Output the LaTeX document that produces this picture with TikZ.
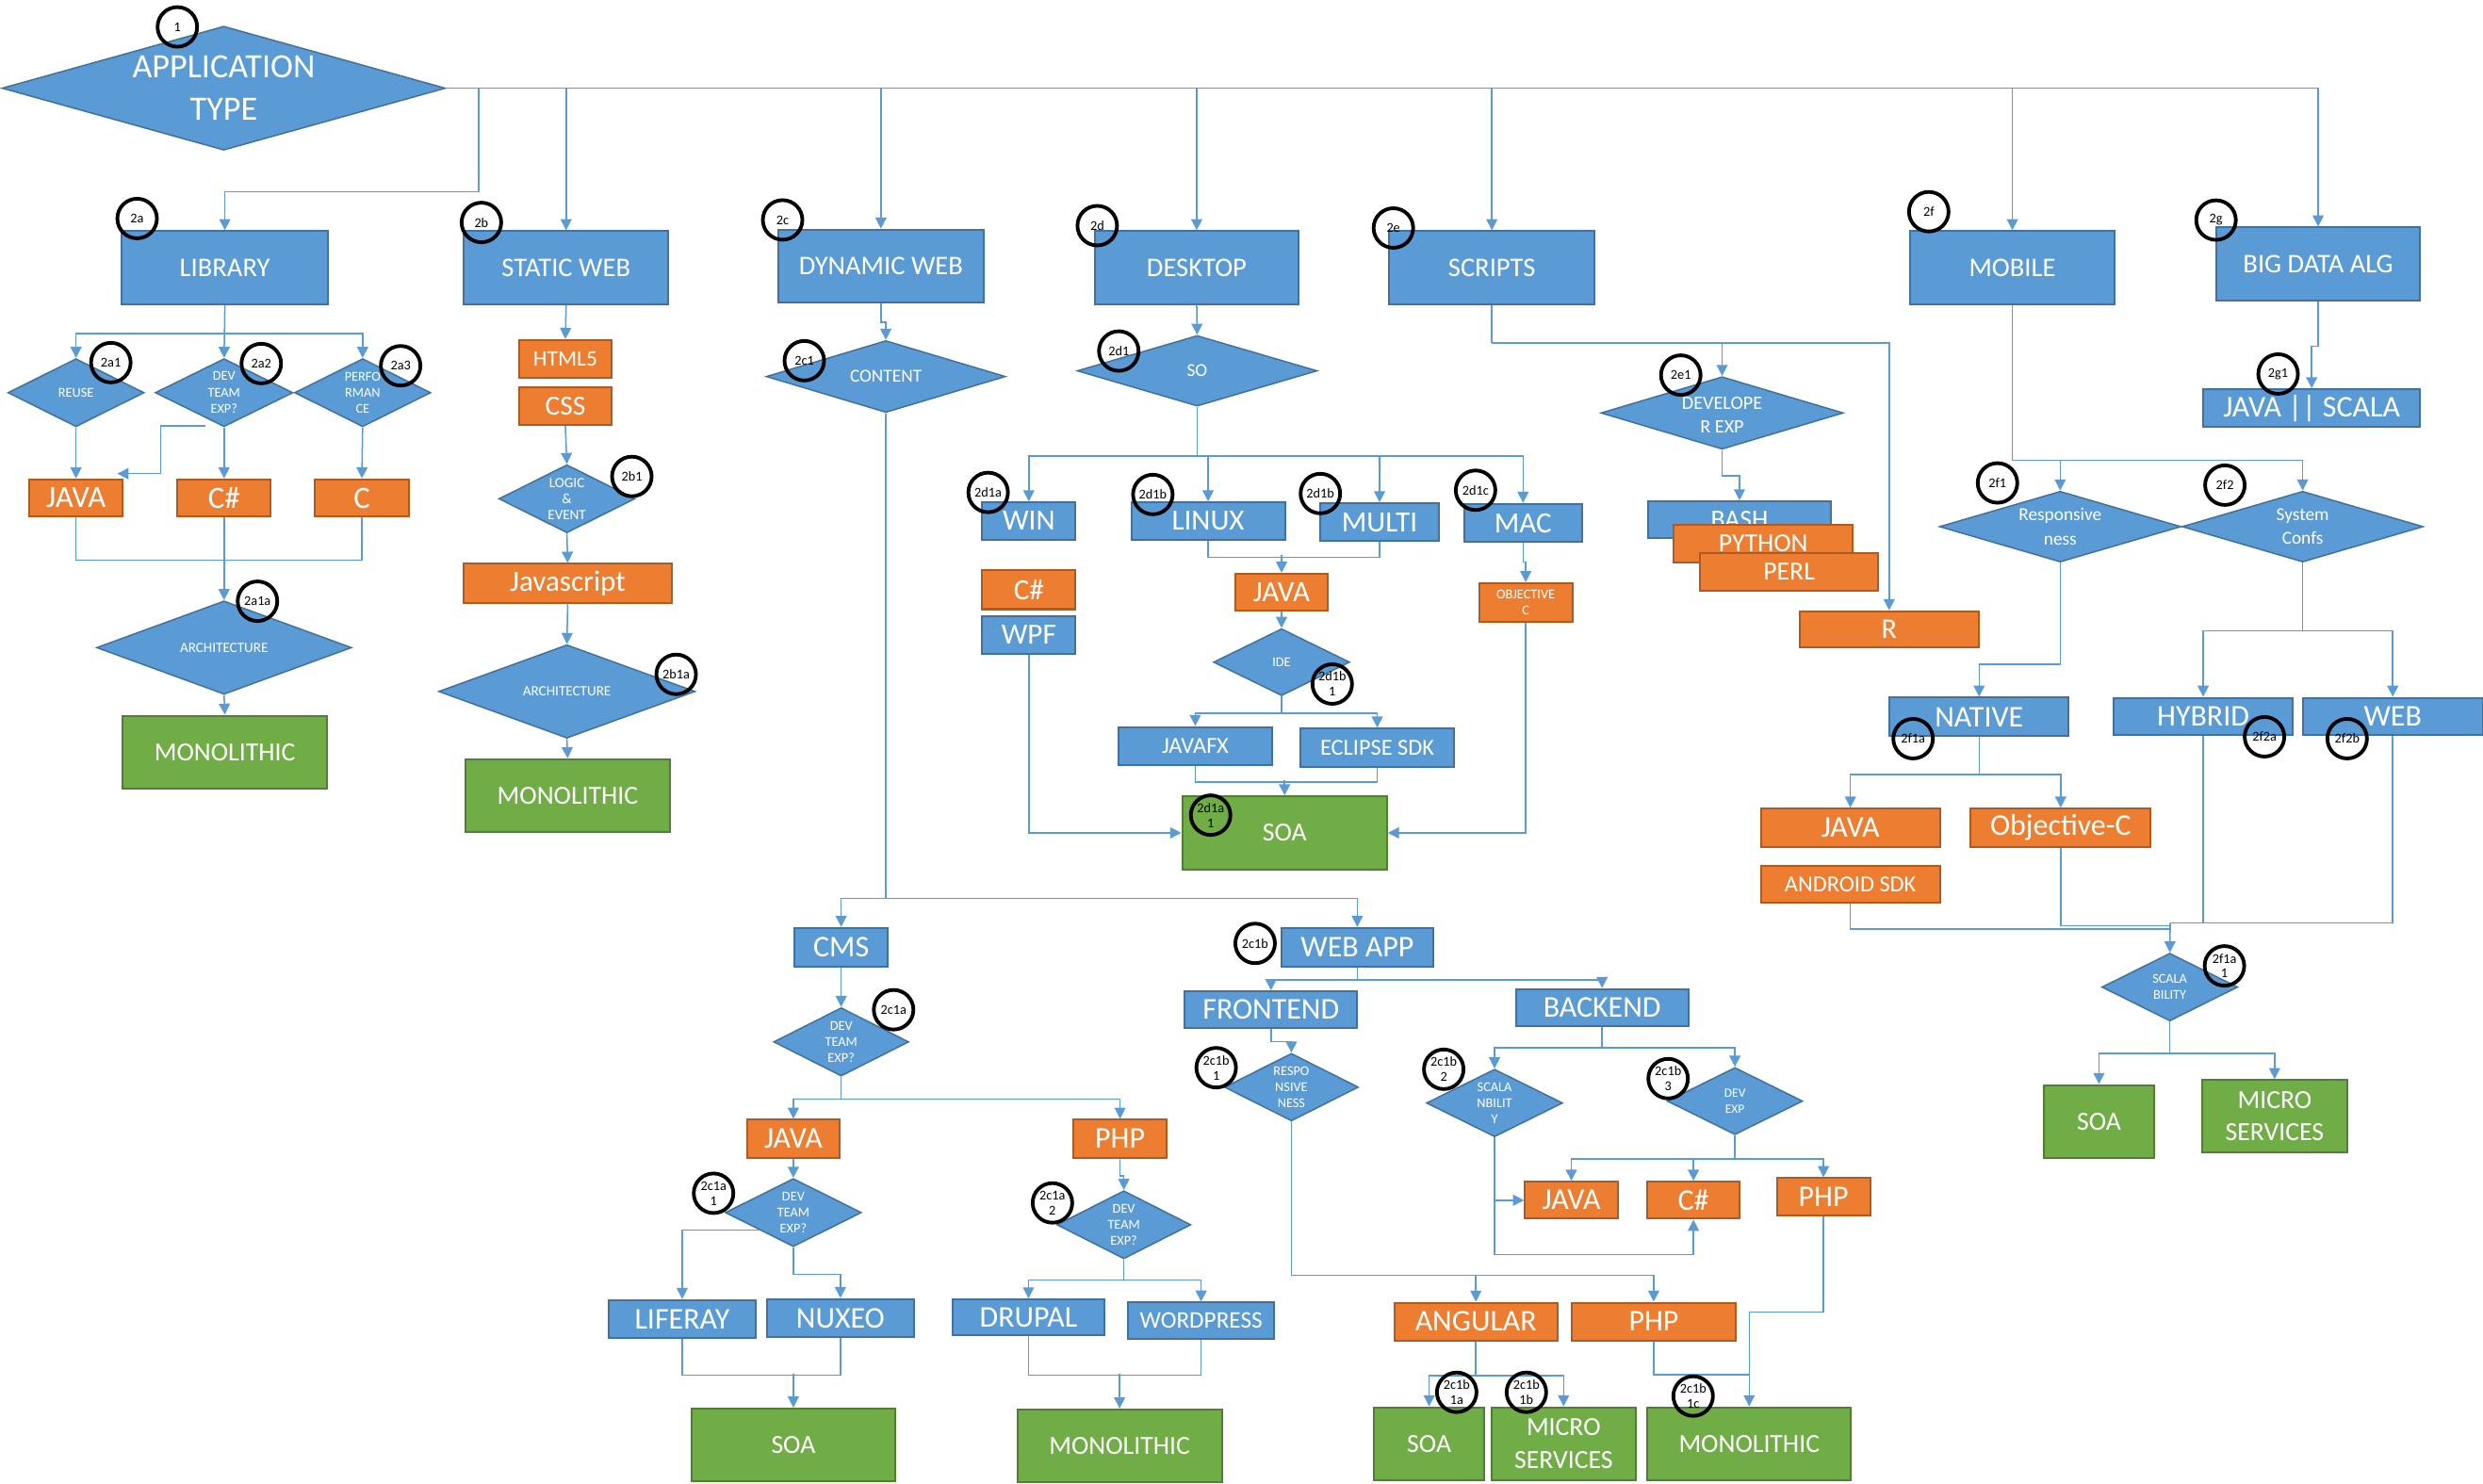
\documentclass[tikz,border=0pt]{standalone}
\usepackage{fontspec}
\setmainfont{Carlito}
\usetikzlibrary{shapes.geometric,arrows.meta,calc}
\definecolor{bfill}{HTML}{5B9BD5}
\definecolor{bdr}{HTML}{41719C}
\definecolor{ofill}{HTML}{ED7D31}
\definecolor{odr}{HTML}{AE5A21}
\definecolor{gfill}{HTML}{70AD47}
\definecolor{gdr}{HTML}{507E32}
\definecolor{lc}{HTML}{5B9BD5}
\tikzset{
  bx/.style={rectangle, draw=bdr, fill=bfill, line width=1.2pt, text=white, inner sep=0pt, align=center},
  ox/.style={rectangle, draw=odr, fill=ofill, line width=1.2pt, text=white, inner sep=0pt, align=center},
  gx/.style={rectangle, draw=gdr, fill=gfill, line width=1.2pt, text=white, inner sep=0pt, align=center},
  dm/.style={diamond, draw=bdr, fill=bfill, line width=0.9pt, inner sep=0pt},
  dt/.style={text=white, inner sep=0pt, align=center},
  wh/.style 2 args={minimum width=#1, minimum height=#2},
  fs/.style 2 args={font=\fontsize{#1}{#2}\selectfont},
  conn/.style={draw=lc, line width=0.9pt},
  arr/.style={conn, -{Triangle[width=7pt,length=7pt]}},
  badge/.style={circle, draw=black, line width=2.3pt, minimum size=25pt, inner sep=0pt, text=black, align=center, font=\fontsize{8.5}{9.5}\selectfont},
}
\begin{document}
\begin{tikzpicture}[x=1pt,y=-1pt]
\fill[white] (0,0) rectangle (1568,937);
\useasboundingbox (0,0) rectangle (1568,937);

% ---------- top ----------
\node[dm, wh={280}{78.3}] (app) at (141.3,55.7) {};
\node[dt, fs={21.5}{26.8}] (app-t) at (app) {APPLICATION\\TYPE};

\node[bx, wh={130}{46}, fs={17}{20}] (lib) at (142,169) {LIBRARY};
\node[bx, wh={129}{46}, fs={17}{20}] (static) at (357.5,169) {STATIC WEB};
\node[bx, wh={130}{46}, fs={17}{20}] (dyn) at (556.3,168) {DYNAMIC WEB};
\node[bx, wh={129}{46}, fs={17}{20}] (desk) at (755.7,169) {DESKTOP};
\node[bx, wh={129.4}{46.3}, fs={17}{20}] (scripts) at (942.1,169.2) {SCRIPTS};
\node[bx, wh={129.3}{46.2}, fs={17}{20}] (mobile) at (1270.8,169.1) {MOBILE};
\node[bx, wh={129}{46.3}, fs={17}{20}] (bigdata) at (1463.9,166.8) {BIG DATA ALG};

% ---------- library ----------
\node[dm, wh={86}{43}] (reuse) at (48,248) {};
\node[dt, fs={8.5}{10.3}] (reuse-t) at (reuse) {REUSE};
\node[dm, wh={87}{43}] (dteL) at (141.5,248) {};
\node[dt, fs={8.5}{10.3}] (dteL-t) at (dteL) {DEV\\TEAM\\EXP?};
\node[dm, wh={86}{43}] (perf) at (229,248) {};
\node[dt, fs={8.5}{10.3}] (perf-t) at (perf) {PERFO\\RMAN\\CE};
\node[ox, wh={59}{23.5}, fs={19.5}{22}] (javaL) at (48,314.5) {JAVA};
\node[ox, wh={59}{23.5}, fs={19.5}{22}] (csL) at (141.5,314.5) {C\#};
\node[ox, wh={59}{23.5}, fs={19.5}{22}] (cL) at (228.5,314.5) {C};
\node[dm, wh={161}{59}] (arch1) at (141.5,409) {};
\node[dt, fs={9}{11}] (arch1-t) at (arch1) {ARCHITECTURE};
\node[gx, wh={129}{46}, fs={16.5}{19}] (mono1) at (142,475) {MONOLITHIC};

% ---------- static web ----------
\node[ox, wh={58}{24}, fs={14}{17}] (html5) at (357,226.7) {HTML5};
\node[ox, wh={58}{24}, fs={17.5}{20}] (css) at (357,256.4) {CSS};
\node[dm, wh={86}{43}] (logic) at (358,315) {};
\node[dt, fs={9}{10.2}] (logic-t) at (logic) {LOGIC\\\&\\EVENT};
\node[ox, wh={131}{24.5}, fs={18.5}{21}] (js) at (358.5,368.3) {Javascript};
\node[dm, wh={162}{59}] (arch2) at (358,436.7) {};
\node[dt, fs={9}{11}] (arch2-t) at (arch2) {ARCHITECTURE};
\node[gx, wh={129.5}{46}, fs={16.5}{19}] (mono2) at (358.5,502.5) {MONOLITHIC};

% ---------- dynamic web ----------
\node[dm, wh={151}{45.4}] (content) at (559.4,237.8) {};
\node[dt, fs={11.5}{14}] (content-t) at (content) {CONTENT};
\node[bx, wh={58.7}{24.4}, fs={19}{22}] (cms) at (531.2,598.2) {CMS};
\node[bx, wh={96.2}{24.4}, fs={19}{22}] (webapp) at (857.1,598.2) {WEB APP};
\node[dm, wh={85.3}{43.2}] (dtec) at (531.2,658) {};
\node[dt, fs={8.5}{10.2}] (dtec-t) at (dtec) {DEV\\TEAM\\EXP?};
\node[ox, wh={58.7}{23.9}, fs={19}{22}] (javac) at (501,719.1) {JAVA};
\node[ox, wh={58.7}{23.9}, fs={19}{22}] (phpc) at (707.3,719.1) {PHP};
\node[dm, wh={86}{43}] (dtej) at (501,765.8) {};
\node[dt, fs={8.5}{10.2}] (dtej-t) at (dtej) {DEV\\TEAM\\EXP?};
\node[bx, wh={93}{24}, fs={19}{22}] (liferay) at (430.8,833) {LIFERAY};
\node[bx, wh={93}{24}, fs={19}{22}] (nuxeo) at (530.7,832.4) {NUXEO};
\node[gx, wh={128.7}{45.8}, fs={16.5}{19}] (soac) at (501,912.5) {SOA};
\node[dm, wh={84.6}{43}] (dtep) at (709.7,773.5) {};
\node[dt, fs={8.5}{10.2}] (dtep-t) at (dtep) {DEV\\TEAM\\EXP?};
\node[bx, wh={95.3}{22.7}, fs={19}{22}] (drupal) at (649.5,832) {DRUPAL};
\node[bx, wh={92.2}{23.2}, fs={15}{18}] (wordpress) at (758.5,834.2) {WORDPRESS};
\node[gx, wh={129}{45.8}, fs={16.5}{19}] (monoc) at (707,913) {MONOLITHIC};
\node[bx, wh={109}{23.2}, fs={19}{22}] (frontend) at (802.6,637.6) {FRONTEND};
\node[bx, wh={109}{23.6}, fs={19}{22}] (backend) at (1011.7,636.4) {BACKEND};
\node[dm, wh={84.6}{42.7}] (resp) at (815.5,686.6) {};
\node[dt, fs={8.5}{10.2}] (resp-t) at (resp) {RESPO\\NSIVE\\NESS};
\node[dm, wh={86}{42.7}] (scala) at (943.8,696.6) {};
\node[dt, fs={8.5}{10.2}] (scala-t) at (scala) {SCALA\\NBILIT\\Y};
\node[dm, wh={85.6}{42.4}] (devexp) at (1095.6,695.4) {};
\node[dt, fs={8}{10}] (devexp-t) at (devexp) {DEV\\EXP};
\node[ox, wh={58.6}{23.4}, fs={19}{22}] (javab) at (992.3,758) {JAVA};
\node[ox, wh={58}{23.4}, fs={19}{22}] (csb) at (1069.4,758) {C\#};
\node[ox, wh={59}{23.8}, fs={19}{22}] (phpb) at (1151.5,756) {PHP};
\node[ox, wh={103.2}{24}, fs={19}{22}] (angular) at (932,834.7) {ANGULAR};
\node[ox, wh={103.3}{24}, fs={19}{22}] (phpf) at (1044.3,834.7) {PHP};
\node[gx, wh={69.5}{46}, fs={16.5}{19}] (soaw) at (902.5,911.8) {SOA};
\node[gx, wh={91.3}{46}, fs={16.5}{20.5}] (microw) at (987.4,911.8) {MICRO\\SERVICES};
\node[gx, wh={128.4}{46}, fs={16.5}{19}] (monow) at (1104.6,911.8) {MONOLITHIC};

% ---------- desktop ----------
\node[dm, wh={151.5}{44.6}] (so) at (756,234.2) {};
\node[dt, fs={11.5}{14}] (so-t) at (so) {SO};
\node[bx, wh={59}{23.5}, fs={18.5}{21}] (win) at (649.7,329) {WIN};
\node[bx, wh={97}{23.5}, fs={18.5}{21}] (linux) at (762.9,329) {LINUX};
\node[bx, wh={75}{24}, fs={18.5}{21}] (multi) at (871.2,329.8) {MULTI};
\node[bx, wh={74.7}{24.2}, fs={18.5}{21}] (mac) at (961.8,330.3) {MAC};
\node[ox, wh={59}{24.4}, fs={18.5}{21}] (csd) at (649.7,372.5) {C\#};
\node[bx, wh={59}{24}, fs={18.5}{21}] (wpf) at (649.7,401) {WPF};
\node[ox, wh={58.7}{23.3}, fs={18.5}{21}] (javad) at (809.3,374) {JAVA};
\node[ox, wh={59}{24.4}, fs={8.5}{10.2}] (objc) at (963.5,380.5) {OBJECTIVE\\C};
\node[dm, wh={86}{42.3}] (ide) at (809.3,418.2) {};
\node[dt, fs={8.5}{10}] (ide-t) at (ide) {IDE};
\node[bx, wh={96.6}{24.2}, fs={14.5}{17}] (javafx) at (754.8,471.2) {JAVAFX};
\node[bx, wh={97}{24.4}, fs={14.5}{17}] (eclipse) at (869.7,472.3) {ECLIPSE SDK};
\node[gx, wh={129.3}{46.2}, fs={16.5}{19}] (soad) at (811.2,526) {SOA};

% ---------- scripts ----------
\node[dm, wh={153}{45.8}] (devel) at (1087.5,260.8) {};
\node[dt, fs={12}{15}] (devel-t) at (1087.5,262) {DEVELOPE\\R EXP};
\node[bx, wh={115}{23.4}, fs={16.5}{20}] (bash) at (1098.5,328.3) {BASH};
\node[ox, wh={113}{23.5}, fs={16.5}{20}] (python) at (1113.5,343.3) {PYTHON};
\node[ox, wh={112.5}{23.6}, fs={16.5}{20}] (perl) at (1129.8,361.2) {PERL};
\node[ox, wh={113}{23}, fs={18}{21}] (rbox) at (1193,397.5) {R};

% ---------- mobile ----------
\node[dm, wh={152.5}{44.7}] (resp2) at (1301,332.6) {};
\node[dt, fs={11.5}{15}] (resp2-t) at (resp2) {Responsive\\ness};
\node[dm, wh={152.2}{44.7}] (sys) at (1454.1,332.6) {};
\node[dt, fs={11.5}{15}] (sys-t) at (sys) {System\\Confs};
\node[bx, wh={113.2}{24.2}, fs={19}{22}] (native) at (1249.8,452.7) {NATIVE};
\node[bx, wh={113.2}{23.5}, fs={19}{22}] (hybrid) at (1391.3,452.4) {HYBRID};
\node[bx, wh={113.6}{23.5}, fs={19}{22}] (web) at (1511,452.4) {WEB};
\node[ox, wh={113.2}{24.2}, fs={19}{22}] (javam) at (1168.5,522.8) {JAVA};
\node[ox, wh={113.5}{24.2}, fs={19}{22}] (objcm) at (1301.3,522.8) {Objective-C};
\node[ox, wh={113.2}{23.3}, fs={14.5}{17}] (android) at (1168.5,558.4) {ANDROID SDK};
\node[dm, wh={85.8}{42.8}] (scalam) at (1370.2,623.4) {};
\node[dt, fs={8.5}{10}] (scalam-t) at (scalam) {SCALA\\BILITY};
\node[gx, wh={69.6}{45.9}, fs={16.5}{19}] (soam) at (1325.5,708.2) {SOA};
\node[gx, wh={91.5}{45.7}, fs={16.5}{20.5}] (microm) at (1436.4,705) {MICRO\\SERVICES};

% ---------- big data ----------
\node[bx, wh={137}{24}, fs={19}{22}] (jscala) at (1459.8,257.8) {JAVA || SCALA};

% ================= connectors =================
\coordinate (libj) at (302.4,55.7);
\draw[arr] (app.east) -| (bigdata.north);
\draw[arr] (libj) -- ++(0,65.3) -| (lib.north);
\draw[arr] (app.east -| static.north) -- (static.north);
\draw[arr] (app.east -| dyn.north) -- (dyn.north);
\draw[arr] (app.east -| desk.north) -- (desk.north);
\draw[arr] (app.east -| scripts.north) -- (scripts.north);
\draw[arr] (app.east -| mobile.north) -- (mobile.north);

% library
\draw[conn] (lib.south) -- ++(0,18) coordinate (lj);
\draw[arr] (lj) -| (reuse.north);
\draw[arr] (lj) -| (perf.north);
\draw[arr] (lib.south) -- (dteL.north);
\draw[arr] (reuse.south) -- (javaL.north);
\draw[arr] (dteL.south) -- (csL.north);
\draw[arr] (perf.south) -- (cL.north);
\draw[arr] ($(dteL.south)+(-12,-1)$) -- ++(-28,0) |- ($(javaL.north east)+(-4,-3)$);
\draw[conn] (javaL.south) -- ++(0,27) -| (cL.south);
\draw[arr] (csL.south) -- (arch1.north);
\draw[arr] (arch1.south) -- (mono1.north);

% static
\draw[arr] (static.south) -- (html5.north);
\draw[arr] (css.south) -- (logic.north);
\draw[arr] (logic.south) -- (js.north);
\draw[arr] (js.south) -- (arch2.north);
\draw[arr] (arch2.south) -- (mono2.north);

% dynamic
\draw[arr] (dyn.south) -- ++(0,12) -| (content.north);
\coordinate (cj) at (559.4,567.5);
\draw[conn] (content.south) -- (cj);
\draw[arr] (cj) -| (cms.north);
\draw[arr] (cj) -| (webapp.north);
\draw[arr] (cms.south) -- (dtec.north);
\draw[conn] (dtec.south) -- ++(0,14) coordinate (cmj);
\draw[arr] (cmj) -| (javac.north);
\draw[arr] (cmj) -| (phpc.north);
\draw[arr] (javac.south) -- (dtej.north);
\draw[arr] (dtej.south west) -| (liferay.north);
\draw[arr] (dtej.south) -- ++(0,17) -| (nuxeo.north);
\draw[conn] (liferay.south) -- ++(0,23) -| (nuxeo.south);
\draw[arr] ($(soac.north)+(0,-21.5)$) -- (soac.north);
\draw[arr] (phpc.south) -- ++(0,11) -| (dtep.north);
\draw[conn] (dtep.south) -- ++(0,13) coordinate (pj);
\draw[arr] (pj) -| (drupal.north);
\draw[arr] (pj) -| (wordpress.north);
\draw[conn] (drupal.south) -- ++(0,24.5) -| (wordpress.south);
\draw[arr] ($(monoc.north)+(0,-22)$) -- (monoc.north);

% web app
\draw[conn] (webapp.south) -- ++(0,8) coordinate (wj);
\draw[arr] (wj) -| (frontend.north);
\draw[arr] (wj) -| (backend.north);
\draw[arr] (frontend.south) -- ++(0,8) -| (resp.north);
\draw[conn] (resp.south) -- ++(0,97) coordinate (rj);
\draw[arr] (rj) -| (angular.north);
\draw[arr] (rj) -| (phpf.north);
\draw[conn] (backend.south) -- ++(0,13) coordinate (bj);
\draw[arr] (bj) -| (scala.north);
\draw[arr] (bj) -| (devexp.north);
\draw[conn] (devexp.south) -- ++(0,15) coordinate (dj);
\draw[arr] (dj) -| (javab.north);
\draw[arr] (dj) -| (csb.north);
\draw[arr] (dj) -| (phpb.north);
\draw[conn] (scala.south) -- ++(0,74) coordinate (sj);
\draw[arr] (sj) -| (csb.south);
\draw[arr] (scala.south |- javab.west) -- (javab.west);
\draw[conn] (angular.south) -- ++(0,21.5) coordinate (aj);
\draw[arr] (aj) -| (soaw.north);
\draw[arr] (aj) -| (microw.north);
\draw[arr] (phpb.south) -- ++(0,60) -| (monow.north);
\draw[conn] (phpf.south) -- ++(0,21) -| ($(monow.north)+(0,-21)$);

% desktop
\draw[arr] (desk.south) -- (so.north);
\draw[conn] (so.south) -- ++(0,31) coordinate (soj);
\draw[arr] (soj) -| (win.north);
\draw[arr] (soj) -| (linux.north);
\draw[arr] (soj) -| (multi.north);
\draw[arr] (soj) -| (mac.north);
\draw[conn] (linux.south) -- ++(0,10.5) -| (multi.south);
\draw[arr] ($(javad.north)+(0,-11)$) -- (javad.north);
\draw[arr] (javad.south) -- (ide.north);
\draw[conn] (ide.south) -- ++(0,10.7) coordinate (ij);
\draw[arr] (ij) -| (javafx.north);
\draw[arr] (ij) -| (eclipse.north);
\draw[conn] (javafx.south) -- ++(0,10) -| (eclipse.south);
\draw[arr] ($(soad.north)+(0,-9.7)$) -- (soad.north);
\draw[arr] (wpf.south) |- (soad.west);
\draw[arr] (mac.south) -- ++(0,12) -| (objc.north);
\draw[arr] (objc.south) |- (soad.east);

% scripts
\draw[conn] (scripts.south) -- ++(0,23.5) coordinate (scj);
\draw[arr] (scj) -| (devel.north);
\draw[arr] (scj) -| (rbox.north);
\draw[arr] (devel.south) -- ++(0,16.3) -| (bash.north);

% mobile
\draw[conn] (mobile.south) -- ++(0,98) coordinate (mj);
\draw[arr] (mj) -| (resp2.north);
\draw[arr] (mj) -| (sys.north);
\draw[arr] (resp2.south) -- ++(0,64) -| (native.north);
\draw[conn] (sys.south) -- ++(0,43) coordinate (syj);
\draw[arr] (syj) -| (hybrid.north);
\draw[arr] (syj) -| (web.north);
\draw[conn] (native.south) -- ++(0,23.6) coordinate (nj);
\draw[arr] (nj) -| (javam.north);
\draw[arr] (nj) -| (objcm.north);
\coordinate (cv) at (1370.5,583);
\draw[conn] (android.south) -- ++(0,16) -| (cv);
\draw[conn] (objcm.south) -- ++(0,49) -| (cv);
\draw[conn] (hybrid.south) |- (cv);
\draw[conn] (web.south) |- (cv);
\draw[arr] (cv) -- (scalam.north);
\draw[conn] (scalam.south) -- ++(0,20) coordinate (smj);
\draw[arr] (smj) -| (soam.north);
\draw[arr] (smj) -| (microm.north);

% big data
\draw[arr] (bigdata.south) -- ++(0,28) -| (jscala.north);

% ================= badges =================
\node[badge] (b1) at (112,17) {1};
\node[badge] (b2a) at (86.6,138) {2a};
\node[badge] (b2b) at (304,140.5) {2b};
\node[badge] (b2c) at (494.2,138.9) {2c};
\node[badge] (b2d) at (692.9,142.5) {2d};
\node[badge] (b2e) at (879.9,144) {2e};
\node[badge] (b2f) at (1218,133.7) {2f};
\node[badge] (b2g) at (1399.4,139) {2g};
\node[badge] (b2a1) at (70,229) {2a1};
\node[badge] (b2a2) at (165,229.6) {2a2};
\node[badge] (b2a3) at (253,231) {2a3};
\node[badge] (b2a1a) at (162.6,379.7) {2a1a};
\node[badge] (b2b1) at (399,300.9) {2b1};
\node[badge] (b2b1a) at (427,425.9) {2b1a};
\node[badge] (b2c1) at (507.9,227.8) {2c1};
\node[badge] (b2d1) at (706.5,221.7) {2d1};
\node[badge] (b2d1a) at (624,311) {2d1a};
\node[badge] (b2d1b) at (728,312.3) {2d1b};
\node[badge] (b2d1bb) at (833.8,311.7) {2d1b};
\node[badge] (b2d1c) at (931.8,309.6) {2d1c};
\node[badge] (b2d1b1) at (841.3,432) {2d1b\\1};
\node[badge] (b2d1a1) at (764.5,514.8) {2d1a\\1};
\node[badge] (b2e1) at (1061.4,236.9) {2e1};
\node[badge] (b2f1) at (1261.4,305) {2f1};
\node[badge] (b2f2) at (1405,306.4) {2f2};
\node[badge] (b2g1) at (1438.6,236.2) {2g1};
\node[badge] (b2f1a) at (1208.1,466.5) {2f1a};
\node[badge] (b2f2a) at (1430,465.3) {2f2a};
\node[badge] (b2f2b) at (1482.2,466.5) {2f2b};
\node[badge] (b2f1a1) at (1404.7,610) {2f1a\\1};
\node[badge] (b2c1a) at (564.3,637.7) {2c1a};
\node[badge] (b2c1a1) at (450.6,753.6) {2c1a\\1};
\node[badge] (b2c1a2) at (664.6,759.7) {2c1a\\2};
\node[badge] (b2c1b) at (792.6,595.8) {2c1b};
\node[badge] (b2c1b1) at (768,674.3) {2c1b\\1};
\node[badge] (b2c1b2) at (911.7,675.3) {2c1b\\2};
\node[badge] (b2c1b3) at (1053.4,681.2) {2c1b\\3};
\node[badge] (b2c1b1a) at (919.9,879.3) {2c1b\\1a};
\node[badge] (b2c1b1b) at (963.9,879.3) {2c1b\\1b};
\node[badge] (b2c1b1c) at (1069.2,881.7) {2c1b\\1c};
\end{tikzpicture}
\end{document}
